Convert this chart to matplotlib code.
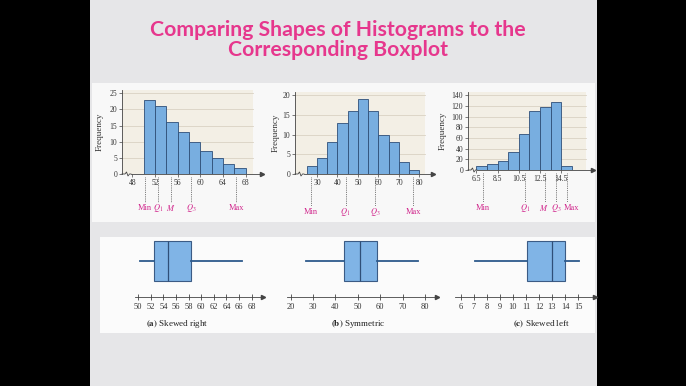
import matplotlib
matplotlib.use("Agg")
import matplotlib.pyplot as plt
import numpy as np
from matplotlib.patches import Rectangle
import matplotlib.transforms as mtransforms

plt.rcParams["font.family"] = ["Liberation Serif", "DejaVu Serif"]
plt.rcParams["mathtext.fontset"] = "stix"

# ---- data ----
h1_edges = [50, 52, 54, 56, 58, 60, 62, 64, 66, 68]
h1_counts = [23, 21, 16, 13, 10, 7, 5, 3, 2]
h1_xticks = [48, 52, 56, 60, 64, 68]
h1_yticks = [0, 5, 10, 15, 20, 25]

h2_edges = [25, 30, 35, 40, 45, 50, 55, 60, 65, 70, 75, 80]
h2_counts = [2, 4, 8, 13, 16, 19, 16, 10, 8, 3, 1]
h2_xticks = [30, 40, 50, 60, 70, 80]
h2_yticks = [0, 5, 10, 15, 20]

h3_edges = [6.5, 7.5, 8.5, 9.5, 10.5, 11.5, 12.5, 13.5, 14.5, 15.5]
h3_counts = [8, 12, 16, 33, 67, 110, 118, 128, 8]
h3_xticks = [6.5, 8.5, 10.5, 12.5, 14.5]
h3_yticks = [0, 20, 40, 60, 80, 100, 120, 140]

# five-number summaries: min, Q1, M, Q3, max
summary_a = [50.3, 52.5, 54.8, 58.4, 66.4]
summary_b = [27.0, 44.0, 51.0, 58.5, 77.0]
summary_c = [7.1, 11.1, 13.0, 14.0, 15.05]

box_a_ticks = [50, 52, 54, 56, 58, 60, 62, 64, 66, 68]
box_b_ticks = [20, 30, 40, 50, 60, 70, 80]
box_c_ticks = [6, 7, 8, 9, 10, 11, 12, 13, 14, 15]

mark_names = ["Min", "$Q_1$", "$M$", "$Q_3$", "Max"]
captions = [r"$\mathbf{(a)}$ Skewed right", r"$\mathbf{(b)}$ Symmetric", r"$\mathbf{(c)}$ Skewed left"]

# ---- styling ----
W, H = 686, 386
BAR = "#78aee0"
BAR_EDGE = "#2f4f78"
BEIGE = "#f3efe5"
GRID = "#d9d2c3"
MAGENTA = "#d1268c"
TITLE = "#e6378d"
AXC = "#444444"

fig = plt.figure(figsize=(W / 100, H / 100), dpi=100)
fig.patch.set_facecolor("black")

bg = fig.add_axes([0, 0, 1, 1])
bg.set_xlim(0, W)
bg.set_ylim(H, 0)
bg.axis("off")
bg.add_patch(Rectangle((90, 0), 507, H, fc="#e6e6e8", ec="none"))
bg.add_patch(Rectangle((92, 83), 503, 139, fc="#f8f8f8", ec="none"))
bg.add_patch(Rectangle((100, 237), 495, 96, fc="#fbfbfb", ec="none"))

bg.text(338, 30, "Comparing Shapes of Histograms to the", color=TITLE,
        family="Lato", weight="bold", fontsize=15.3, ha="center", va="center")
bg.text(338, 50, "Corresponding Boxplot", color=TITLE,
        family="Lato", weight="bold", fontsize=15.3, ha="center", va="center")


def ax_px(l, t, r, b):
    return fig.add_axes([l / W, 1 - b / H, (r - l) / W, (b - t) / H])


def draw_hist(px, xr, beige_end, ytop, edges, counts, xticks, yticks,
              marks, names, label_y, ylab_x, label_dx=None):
    l, t, r, b = px
    ax = ax_px(l, t, r, b)
    ax.set_xlim(*xr)
    ax.set_ylim(0, ytop)
    ax.patch.set_alpha(0)
    ax.add_patch(Rectangle((xr[0], 0), beige_end - xr[0], ytop, fc=BEIGE, ec="none", zorder=0))
    for y in yticks[1:]:
        ax.plot([xr[0], beige_end], [y, y], color=GRID, lw=0.6, zorder=1)
    ax.bar(edges[:-1], counts, width=np.diff(edges), align="edge",
           color=BAR, edgecolor=BAR_EDGE, lw=0.6, zorder=2)
    for s in ["top", "right", "bottom"]:
        ax.spines[s].set_visible(False)
    ax.spines["left"].set_color(AXC)
    ax.spines["left"].set_linewidth(0.6)
    ax.set_xticks(xticks)
    ax.set_xticklabels([f"{v:g}" for v in xticks])
    ax.set_yticks(yticks)
    ax.tick_params(labelsize=5.5, length=2, width=0.5, color=AXC, labelcolor="#333333", pad=1.5)
    # axis line with break and arrow
    w = r - l
    hgt = b - t
    zx = [0, 3 / w, 4.5 / w, 6 / w, 7.5 / w, 9 / w]
    zy = [0, 0, 2 / hgt, -2 / hgt, 0, 0]
    ax.plot(zx, zy, transform=ax.transAxes, color=AXC, lw=0.6, clip_on=False)
    ax.plot([9 / w, 1], [0, 0], transform=ax.transAxes, color=AXC, lw=0.6, clip_on=False)
    ax.plot([1], [0], marker=">", ms=3, color=AXC, transform=ax.transAxes, clip_on=False)
    # dotted guides and labels
    tr = mtransforms.blended_transform_factory(ax.transData, ax.transAxes)
    y0 = (b - (b + 3)) / hgt
    y1 = (b - (label_y - 6)) / hgt
    if label_dx is None:
        label_dx = [0] * len(marks)
    for v, nm, dx in zip(marks, names, label_dx):
        ax.plot([v, v], [y0, y1], transform=tr, color="#555555", lw=0.6,
                ls=(0, (1, 1.2)), clip_on=False)
        ax.text(v + dx, (b - label_y) / hgt, nm, transform=tr, color=MAGENTA,
                fontsize=6, ha="center", va="center")
    bg.text(ylab_x, (t + b) / 2, "Frequency", rotation=90, fontsize=6.5,
            ha="center", va="center", color="#333333")
    return ax


draw_hist((122, 90, 262, 174), (46.2, 70.9), 69.3, 26, h1_edges, h1_counts,
          h1_xticks, h1_yticks, summary_a, mark_names, 208, 100)
draw_hist((295, 92, 433, 174), (19.3, 86.6), 82.7, 20.8, h2_edges, h2_counts,
          h2_xticks, h2_yticks, [summary_b[i] for i in (0, 1, 3, 4)],
          [mark_names[i] for i in (0, 1, 3, 4)], 212, 276)
draw_hist((468, 92, 593, 170), (5.7, 17.5), 16.8, 146, h3_edges, h3_counts,
          h3_xticks, h3_yticks, summary_c, mark_names, 208, 443,
          label_dx=[0, 0, -0.15, 0.05, 0.45])


def draw_box(px, xr, summary, ticks, caption, cap_x):
    l, t, r, b = px
    ax = ax_px(l, t, r, b)
    ax.patch.set_alpha(0)
    stats = [{"whislo": summary[0], "q1": summary[1], "med": summary[2],
              "q3": summary[3], "whishi": summary[4], "fliers": []}]
    ax.bxp(stats, positions=[0.6], widths=0.68, orientation="horizontal",
           patch_artist=True, showcaps=False, showfliers=False,
           boxprops=dict(facecolor="#80b4e6", edgecolor="#3b5b85", lw=0.8),
           medianprops=dict(color="#2f4f78", lw=0.9),
           whiskerprops=dict(color="#2d5a8c", lw=1.3))
    ax.set_xlim(*xr)
    ax.set_ylim(0, 1)
    ax.set_yticks([])
    ax.set_xticks(ticks)
    ax.set_xticklabels([str(v) for v in ticks])
    for s in ["top", "right", "left"]:
        ax.spines[s].set_visible(False)
    ax.spines["bottom"].set_color(AXC)
    ax.spines["bottom"].set_linewidth(0.6)
    ax.plot([1], [0], marker=">", ms=3, color=AXC, transform=ax.transAxes, clip_on=False)
    ax.tick_params(axis="x", direction="inout", length=5, width=0.6, color=AXC,
                   labelsize=6, labelcolor="#333333", pad=2)
    bg.text(cap_x, 324, caption, fontsize=6.5, ha="center", va="center", color="#222222")


draw_box((135, 237, 263, 297), (49.5, 69.8), summary_a, box_a_ticks, captions[0], 177)
draw_box((287, 237, 437, 297), (18.4, 85.3), summary_b, box_b_ticks, captions[1], 358)
draw_box((455, 237, 595, 297), (5.56, 16.3), summary_c, box_c_ticks, captions[2], 541)

fig.savefig("out.png", dpi=100, facecolor=fig.get_facecolor())
